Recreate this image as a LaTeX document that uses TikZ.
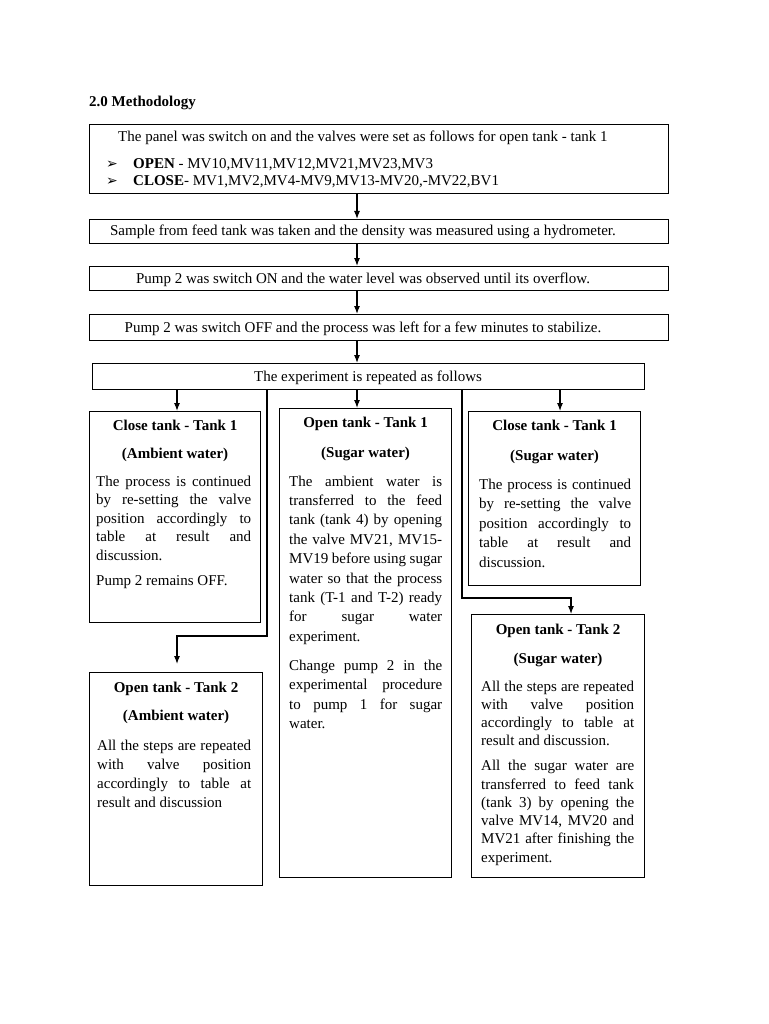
\documentclass[tikz,border=0pt]{standalone}
\usepackage{fontspec}
\setmainfont{Liberation Serif}
\newfontfamily\symfont{DejaVu Sans}
\usetikzlibrary{arrows.meta}
\usetikzlibrary{calc}
\setlength{\parindent}{0pt}

\begin{document}
\begin{tikzpicture}[x=1pt, y=-1pt, font=\fontsize{15}{18.5}\selectfont,
    >={Latex[length=8pt, width=6pt]},
    frame/.style={draw, line width=1.1pt, inner sep=0pt, anchor=north west},
    link/.style={line width=1.1pt, ->},
    txt/.style={inner sep=0pt, anchor=base},
    head/.style={inner sep=0pt, anchor=base, font=\fontsize{15}{18.5}\selectfont\bfseries},
    body/.style={inner sep=0pt, anchor=base west, align=justify}]
    \useasboundingbox (0,0) rectangle (768,1024);

    \node[head, anchor=base west] (0) at (89,107) {2.0 Methodology};

    \node[frame, minimum width=579pt, minimum height=69pt] (1) at (89,124) {};
    \node[frame, minimum width=579pt, minimum height=24pt] (2) at (89,219) {};
    \node[frame, minimum width=579pt, minimum height=24pt] (3) at (89,266) {};
    \node[frame, minimum width=579pt, minimum height=26pt] (4) at (89,314) {};
    \node[frame, minimum width=552pt, minimum height=26pt] (5) at (92,363) {};
    \node[frame, minimum width=171pt, minimum height=211pt] (6) at (89,411) {};
    \node[frame, minimum width=172pt, minimum height=469pt] (7) at (279,408) {};
    \node[frame, minimum width=172pt, minimum height=174pt] (8) at (468,411) {};
    \node[frame, minimum width=173pt, minimum height=213pt] (9) at (89,672) {};
    \node[frame, minimum width=173pt, minimum height=263pt] (10) at (471,614) {};

    \node[txt, anchor=base west] (t1) at (118,142) {The panel was switch on and the valves were set as follows for open tank - tank 1};
    \node[txt] (b1) at (112,169) {\symfont\fontsize{14}{14}\selectfont ➢};
    \node[txt, anchor=base west] (t1a) at (133,169) {\textbf{OPEN} - MV10,MV11,MV12,MV21,MV23,MV3};
    \node[txt] (b2) at (112,186) {\symfont\fontsize{14}{14}\selectfont ➢};
    \node[txt, anchor=base west] (t1b) at (133,186) {\textbf{CLOSE}- MV1,MV2,MV4-MV9,MV13-MV20,-MV22,BV1};
    \node[txt] (t2) at (363,236) {Sample from feed tank was taken and the density was measured using a hydrometer.};
    \node[txt] (t3) at (363,283) {Pump 2 was switch ON and the water level was observed until its overflow.};
    \node[txt] (t4) at (363,332) {Pump 2 was switch OFF and the process was left for a few minutes to stabilize.};
    \node[txt] (t5) at (368,381) {The experiment is repeated as follows};

    \node[head] (t6) at ($(6.north)+(0,19)$) {Close tank - Tank 1};
    \node[head] (t6a) at ($(6.north)+(0,47)$) {(Ambient water)};
    \node[body, text width=155pt] (t6b) at ($(6.north west)+(7,75)$) {The process is continued\linebreak by re-setting the valve\linebreak position accordingly to\linebreak table at result and\linebreak discussion.\par\vspace{7pt}Pump 2 remains OFF.};

    \node[head] (t7) at ($(7.north)+(0,19)$) {Open tank - Tank 1};
    \node[head] (t7a) at ($(7.north)+(0,49)$) {(Sugar water)};
    \node[body, text width=153pt, font=\fontsize{15}{19.4}\selectfont] (t7b) at ($(7.north west)+(10,78)$) {The ambient water is\linebreak transferred to the feed\linebreak tank (tank 4) by opening\linebreak the valve MV21, MV15-\linebreak MV19 before using sugar\linebreak water so that the process\linebreak tank (T-1 and T-2) ready\linebreak for sugar water\linebreak experiment.\par\vspace{9.6pt}Change pump 2 in the\linebreak experimental procedure\linebreak to pump 1 for sugar\linebreak water.};

    \node[head] (t8) at ($(8.north)+(0,19)$) {Close tank - Tank 1};
    \node[head] (t8a) at ($(8.north)+(0,49)$) {(Sugar water)};
    \node[body, text width=152pt, font=\fontsize{15}{19.5}\selectfont] (t8b) at ($(8.north west)+(11,78)$) {The process is continued\linebreak by re-setting the valve\linebreak position accordingly to\linebreak table at result and\linebreak discussion.};

    \node[head] (t9) at ($(9.north)+(0,20)$) {Open tank - Tank 2};
    \node[head] (t9a) at ($(9.north)+(0,48)$) {(Ambient water)};
    \node[body, text width=154pt, font=\fontsize{15}{19.3}\selectfont] (t9b) at ($(9.north west)+(8,78)$) {All the steps are repeated\linebreak with valve position\linebreak accordingly to table at\linebreak result and discussion};

    \node[head] (t10) at ($(10.north)+(0,20)$) {Open tank - Tank 2};
    \node[head] (t10a) at ($(10.north)+(0,49)$) {(Sugar water)};
    \node[body, text width=153pt, font=\fontsize{15}{18.3}\selectfont] (t10b) at ($(10.north west)+(10,77)$) {All the steps are repeated\linebreak with valve position\linebreak accordingly to table at\linebreak result and discussion.\par\vspace{6.5pt}All the sugar water are\linebreak transferred to feed tank\linebreak (tank 3) by opening the\linebreak valve MV14, MV20 and\linebreak MV21 after finishing the\linebreak experiment.};

    \coordinate (c1) at (357,0);
    \coordinate (c2) at (177,0);
    \coordinate (c3) at (560,0);
    \coordinate (c4) at (267,636);
    \coordinate (c5) at (462,598);
    \coordinate (c6) at (571,0);

    \draw[link] (1.south -| c1) -- (2.north -| c1);
    \draw[link] (2.south -| c1) -- (3.north -| c1);
    \draw[link] (3.south -| c1) -- (4.north -| c1);
    \draw[link] (4.south -| c1) -- (5.north -| c1);
    \draw[link] (5.south -| c2) -- (6.north -| c2);
    \draw[link] (5.south -| c1) -- (7.north -| c1);
    \draw[link] (5.south -| c3) -- (8.north -| c3);
    \draw[link, shorten >=8pt] (5.south -| c4) -- (c4) -| (9.north -| c2);
    \draw[link] (5.south -| c5) -- (c5) -| (10.north -| c6);
  \end{tikzpicture}
\end{document}
